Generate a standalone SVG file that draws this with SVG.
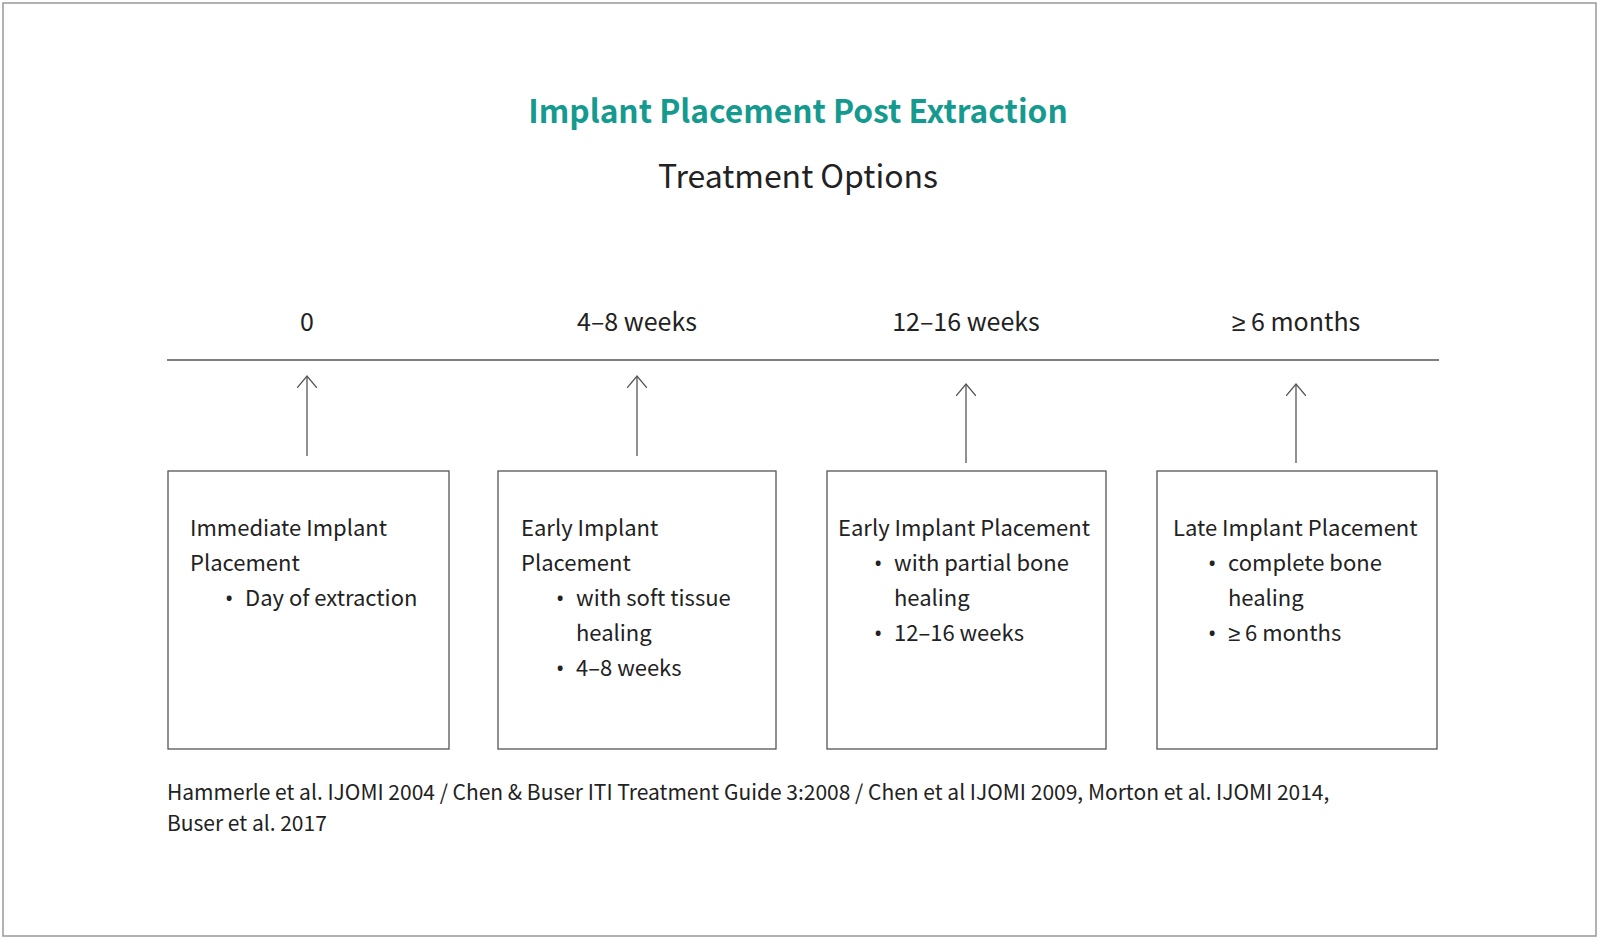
<svg xmlns="http://www.w3.org/2000/svg" width="1600" height="940" viewBox="0 0 1600 940">
<style>
text{font-family:"Noto Sans CJK SC","Noto Sans",sans-serif;fill:#222;font-size:22px}
.box{fill:#fff;stroke:#555;stroke-width:1.3}
.ln{stroke:#555;stroke-width:1.3;fill:none}
.t{font-size:25px}
.s{font-family:"Noto Sans",sans-serif}
</style>
<defs><marker id="ah" markerWidth="30" markerHeight="20" refX="12" refY="10" orient="auto" markerUnits="userSpaceOnUse"><path d="M0,0 L12,10 L0,20" fill="none" stroke="#555" stroke-width="1.3"/></marker></defs>
<rect x="3" y="3" width="1593" height="933" fill="#fff" stroke="#999" stroke-width="1.5"/>
<text x="798" y="123" text-anchor="middle" style="font-size:31.7px;font-weight:bold;fill:#149a8f">Implant Placement Post Extraction</text>
<text x="798" y="188" text-anchor="middle" style="font-size:32px">Treatment Options</text>
<text class="t" x="307" y="331" text-anchor="middle">0</text>
<text class="t" x="637" y="331" text-anchor="middle">4–8 weeks</text>
<text class="t" x="966" y="331" text-anchor="middle">12–16 weeks</text>
<text class="t" x="1296" y="331" text-anchor="middle"><tspan class="s">≥</tspan> 6 months</text>
<g id="connectors">
<line class="ln" x1="167" y1="360" x2="1439" y2="360"/>
<line class="ln" x1="307" y1="456" x2="307" y2="376" marker-end="url(#ah)"/>
<line class="ln" x1="637" y1="456" x2="637" y2="376" marker-end="url(#ah)"/>
<line class="ln" x1="966" y1="463" x2="966" y2="384" marker-end="url(#ah)"/>
<line class="ln" x1="1296" y1="463" x2="1296" y2="384" marker-end="url(#ah)"/>
</g>
<g id="n1"><rect class="box" x="168" y="471" width="281" height="278"/>
<text x="190" y="536">Immediate Implant</text><text x="190" y="571">Placement</text>
<text class="s" x="225" y="606">•</text><text x="245" y="606">Day of extraction</text></g>
<g id="n2"><rect class="box" x="498" y="471" width="278" height="278"/>
<text x="521" y="536">Early Implant</text><text x="521" y="571">Placement</text>
<text class="s" x="556" y="606">•</text><text x="576" y="606">with soft tissue</text>
<text x="576" y="641">healing</text>
<text class="s" x="556" y="676">•</text><text x="576" y="676">4–8 weeks</text></g>
<g id="n3"><rect class="box" x="827" y="471" width="279" height="278"/>
<text x="838" y="536">Early Implant Placement</text>
<text class="s" x="874" y="571">•</text><text x="894" y="571">with partial bone</text>
<text x="894" y="606">healing</text>
<text class="s" x="874" y="641">•</text><text x="894" y="641">12–16 weeks</text></g>
<g id="n4"><rect class="box" x="1157" y="471" width="280" height="278"/>
<text x="1173" y="536">Late Implant Placement</text>
<text class="s" x="1208" y="571">•</text><text x="1228" y="571">complete bone</text>
<text x="1228" y="606">healing</text>
<text class="s" x="1208" y="641">•</text><text x="1228" y="641"><tspan class="s">≥</tspan> 6 months</text></g>
<text x="167" y="800" style="font-size:21px">Hammerle et al. IJOMI 2004 / Chen &amp; Buser ITI Treatment Guide 3:2008 / Chen et al IJOMI 2009, Morton et al. IJOMI 2014,</text>
<text x="167" y="831" style="font-size:21px">Buser et al. 2017</text>
</svg>
